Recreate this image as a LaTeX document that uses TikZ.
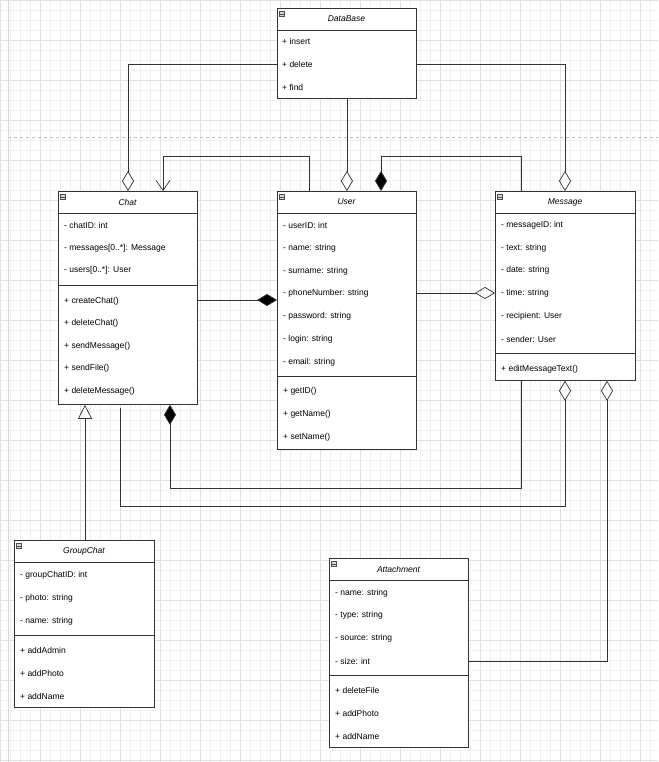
\documentclass[tikz,border=0pt]{standalone}
\usepackage{fontspec}
\setmainfont{Liberation Sans}
\usetikzlibrary{arrows.meta}
\begin{document}
\begin{tikzpicture}[x=1pt,y=-1pt,
  box/.style={draw=black!80,line width=0.8pt,fill=white,anchor=north west,inner sep=0pt},
  ttl/.style={font=\fontsize{8.5}{10}\selectfont\itshape,anchor=center},
  itm/.style={font=\fontsize{8.5}{10}\selectfont,anchor=west,inner sep=0pt},
  icon/.style={draw=black!70,fill=black!15,minimum size=5pt,inner sep=0pt,line width=0.4pt},
  sep/.style={draw=black!80,line width=0.8pt},
  conn/.style={draw=black!80,line width=0.7pt},
  agg/.style={conn,-{Diamond[open,length=20pt,width=12pt]}},
  comp/.style={conn,-{Diamond[fill=black,length=20pt,width=12pt]}},
  nav/.style={conn,-{Straight Barb[length=10pt,width=14pt]}},
  gen/.style={conn,-{Triangle[open,length=14pt,width=14pt,fill=white]}}]
\useasboundingbox (0,0) rectangle (658,762);
\fill[white] (0,0) rectangle (658,762);
\foreach \g in {0,10,...,760} {\draw[black!6,line width=0.4pt] (0,\g) -- (658,\g);}
\foreach \g in {0,10,...,650} {\draw[black!6,line width=0.4pt] (\g,0) -- (\g,762);}
\foreach \g in {0,40,...,760} {\draw[black!12,line width=0.5pt] (0,\g) -- (658,\g);}
\foreach \g in {0,40,...,650} {\draw[black!12,line width=0.5pt] (\g,0) -- (\g,762);}
\draw[black!25,dashed,line width=0.8pt] (8,137) -- (658,137);
\draw[black!15,line width=0.8pt] (8,0) -- (8,762);
\newcommand\umlbox[6]{%
  \node[box,minimum width=#4pt,minimum height=#5pt] (#1) at (#2,#3) {};
  \draw[sep] (#2,#3+22) -- (#2+#4,#3+22);
  \node[ttl] at (#2+#4/2,#3+11) {#6};
  \node[icon] at (#2+5,#3+6) {};
  \draw[black!70,line width=0.5pt] (#2+3.3,#3+6) -- (#2+6.7,#3+6);}
\newcommand\umlit[3]{\node[itm] at (#1,#2) {#3};}
% DataBase
\umlbox{db}{277}{8}{139}{90}{DataBase}
\umlit{282}{41}{+ insert}\umlit{282}{64}{+ delete}\umlit{282}{87}{+ find}
% Chat
\umlbox{chat}{58}{191}{139}{213}{Chat}
\umlit{64}{225}{- chatID: int}\umlit{64}{248}{- messages[0..*]: Message}\umlit{64}{270}{- users[0..*]: User}
\draw[sep] (58,285) -- (197,285);
\umlit{64}{301}{+ createChat()}\umlit{64}{323}{+ deleteChat()}\umlit{64}{346}{+ sendMessage()}\umlit{64}{368}{+ sendFile()}\umlit{64}{391}{+ deleteMessage()}
% User
\umlbox{user}{277}{191}{139}{258}{User}
\umlit{283}{225}{- userID: int}\umlit{283}{248}{- name: string}\umlit{283}{271}{- surname: string}\umlit{283}{293}{- phoneNumber: string}\umlit{283}{316}{- password: string}\umlit{283}{339}{- login: string}\umlit{283}{362}{- email: string}
\draw[sep] (277,376) -- (416,376);
\umlit{283}{391}{+ getID()}\umlit{283}{414}{+ getName()}\umlit{283}{437}{+ setName()}
% Message
\umlbox{msg}{495}{191}{140}{189}{Message}
\umlit{501}{225}{- messageID: int}\umlit{501}{248}{- text: string}\umlit{501}{270}{- date: string}\umlit{501}{293}{- time: string}\umlit{501}{316}{- recipient: User}\umlit{501}{339}{- sender: User}
\draw[sep] (495,353) -- (635,353);
\umlit{501}{369}{+ editMessageText()}
% GroupChat
\umlbox{gc}{14}{540}{140}{167}{GroupChat}
\umlit{20}{575}{- groupChatID: int}\umlit{20}{598}{- photo: string}\umlit{20}{621}{- name: string}
\draw[sep] (14,635) -- (154,635);
\umlit{20}{650}{+ addAdmin}\umlit{20}{673}{+ addPhoto}\umlit{20}{696}{+ addName}
% Attachment
\umlbox{att}{329}{558}{139}{189}{Attachment}
\umlit{335}{593}{- name: string}\umlit{335}{615}{- type: string}\umlit{335}{638}{- source: string}\umlit{335}{661}{- size: int}
\draw[sep] (329,675) -- (468,675);
\umlit{335}{690}{+ deleteFile}\umlit{335}{713}{+ addPhoto}\umlit{335}{736}{+ addName}
% connectors
\draw[agg] (db.west |- 0,64) -| ([xshift=70pt]chat.north west);
\draw[agg] (db.south) -- (db.south |- user.north);
\draw[agg] (db.east |- 0,64) -| ([xshift=70pt]msg.north west);
\draw[nav] ([xshift=32pt]user.north west) -- ++(0,-35) -| ([xshift=105pt]chat.north west);
\draw[comp] ([xshift=26pt]msg.north west) -- ++(0,-35) -| ([xshift=104pt]user.north west);
\draw[comp] (chat.east |- 0,300) -- (user.west |- 0,300);
\draw[agg] (user.east |- 0,293) -- (msg.west |- 0,293);
\draw[gen] ([xshift=71pt]gc.north west) -- ([xshift=27pt]chat.south west);
\draw[comp] ([xshift=26pt]msg.south west) -- ++(0,108) -| ([xshift=112pt]chat.south west);
\draw[agg] ([xshift=62pt,yshift=-3pt]chat.south west) -- ++(0,99) -| ([xshift=70pt]msg.south west);
\draw[agg] (att.east |- 0,661) -| ([xshift=112pt]msg.south west);
\end{tikzpicture}
\end{document}
